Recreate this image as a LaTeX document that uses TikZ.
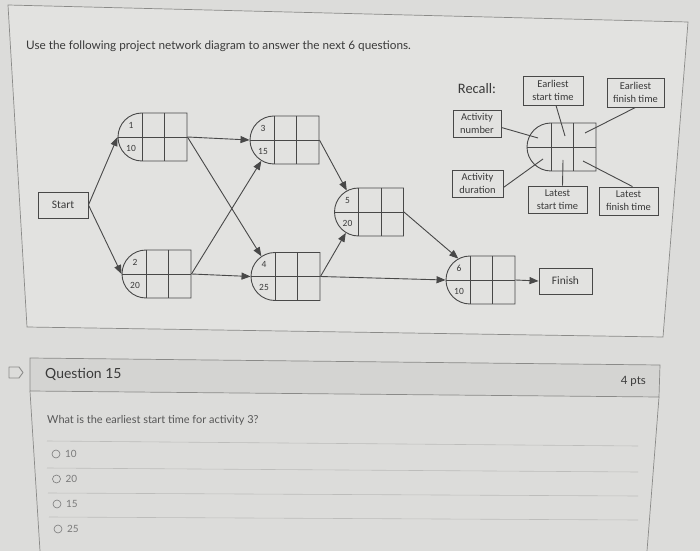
\documentclass[tikz,border=0pt]{standalone}
\usepackage{fontspec}
\setmainfont{Lato}
\newfontfamily\cfont{Carlito}
\usetikzlibrary{shapes.misc,arrows.meta,calc}
\definecolor{paper}{HTML}{DCDCDA}
\definecolor{panelbg}{HTML}{E2E2E0}
\definecolor{headbg}{HTML}{D4D4D2}
\definecolor{ink}{HTML}{3A3A3A}
\definecolor{lineg}{HTML}{484848}
\definecolor{frameg}{HTML}{8A8A88}
\definecolor{sepg}{HTML}{BDBDBB}
\definecolor{optg}{HTML}{7A7A7A}
\tikzset{
  act/.style={draw=lineg, line width=0.9pt, rounded rectangle, rounded rectangle right arc=none,
              minimum width=69bp, minimum height=48bp, inner sep=0pt},
  grid/.style={draw=lineg, line width=0.9pt},
  num/.style={text=ink, font=\cfont\fontsize{9.5}{10}\selectfont, inner sep=0pt},
  termbox/.style={draw=lineg, line width=0.9pt, text=ink, font=\cfont\fontsize{11.5}{13}\selectfont, inner sep=0pt},
  legbox/.style={draw=lineg, line width=0.9pt, text=ink, align=center, inner sep=0pt,
                 font=\cfont\fontsize{10.5}{13}\selectfont},
  conn/.style={draw=lineg, line width=0.9pt, -{Triangle[length=9bp,width=7bp]}},
  legline/.style={draw=lineg, line width=0.9pt},
  frame/.style={draw=frameg, line width=0.7pt},
  sepline/.style={draw=sepg, line width=0.6pt},
  optcirc/.style={circle, draw=optg, line width=0.6pt, minimum size=8bp, inner sep=0pt},
  opttext/.style={text=optg, font=\fontsize{10}{11}\selectfont, anchor=west, inner sep=0pt},
}
\newcommand\actnode[5]{%
  \node[act] (#1) at (#2,#3) {};
  \draw[grid] ({#2-34.5},#3) -- ({#2+34.5},#3);
  \draw[grid] ({#2-10.5},{#3-24}) -- ({#2-10.5},{#3+24});
  \draw[grid] ({#2+12},{#3-24}) -- ({#2+12},{#3+24});
  \node[num] (#1n) at ({#2-21.5},{#3-12}) {#4};
  \node[num] (#1d) at ({#2-21.5},{#3+11}) {#5};
}
\begin{document}
\begin{tikzpicture}[x=1bp,y=-1bp]
\useasboundingbox (0,0) rectangle (700,551);
\fill[paper] (0,0) rectangle (700,551);
% upper panel
\filldraw[frame, fill=panelbg] (8,5) -- (688,22) -- (663,337) -- (27,327) -- cycle;
\node[text=ink, font=\fontsize{11.8}{14}\selectfont, anchor=west, inner sep=0pt] (intro) at (26,46)
  {Use the following project network diagram to answer the next 6 questions.};

% network
\node[termbox, minimum width=50bp, minimum height=26bp] (start) at (63,205) {Start};
\actnode{n1}{152.5}{137}{1}{10}
\actnode{n2}{156.5}{274}{2}{20}
\actnode{n3}{284.5}{140}{3}{15}
\actnode{n4}{285.5}{276.5}{4}{25}
\actnode{n5}{369}{212}{5}{20}
\actnode{n6}{480.5}{280}{6}{10}
\node[termbox, minimum width=53bp, minimum height=26bp] (finish) at (565.5,281) {Finish};

\draw[conn] (start.east) -- (n1.west);
\draw[conn] (start.east) -- (n2.west);
\draw[conn] (n1.east) -- (n3.west);
\draw[conn] (n1.east) -- (n4.140);
\draw[conn] (n2.east) -- (n3.222);
\draw[conn] (n2.east) -- (n4.west);
\draw[conn] (n3.east) -- (n5.136);
\draw[conn] (n4.east) -- (n5.222);
\draw[conn] (n4.east) -- (n6.west);
\draw[conn] (n5.east) -- (n6.136);
\draw[conn] (n6.east) -- (finish.west);

% legend
\node[text=ink, font=\cfont\fontsize{14.5}{16}\selectfont, inner sep=0pt] (recall) at (477,89) {Recall:};
\node[act] (lg) at (561.5,147) {};
\draw[grid] (527,147) -- (596,147);
\draw[grid] (551,123) -- (551,171);
\draw[grid] (573.5,123) -- (573.5,171);
\node[legbox, minimum width=48bp, minimum height=27bp] (actnum) at (477,123.5) {Activity\\number};
\node[legbox, minimum width=60bp, minimum height=29bp] (eststart) at (553,90.5) {Earliest\\start time};
\node[legbox, minimum width=57bp, minimum height=29bp] (estfinish) at (635.5,92.5) {Earliest\\finish time};
\node[legbox, minimum width=51bp, minimum height=27bp] (actdur) at (477.5,183.5) {Activity\\duration};
\node[legbox, minimum width=59bp, minimum height=27bp] (lststart) at (557.5,199.5) {Latest\\start time};
\node[legbox, minimum width=59bp, minimum height=28bp] (lstfinish) at (628.5,201) {Latest\\finish time};
\coordinate (pnum) at (538,138);
\coordinate (pes) at (565,136);
\coordinate (pef) at (585,133);
\coordinate (pdur) at (543,159);
\coordinate (pls) at (563,160);
\coordinate (plf) at (583,161);
\draw[legline] ($(actnum.east)+(0,4)$) -- (pnum);
\draw[legline] ($(eststart.south)+(3,0)$) -- (pes);
\draw[legline] (estfinish.south) -- (pef);
\draw[legline] ($(actdur.east)+(0,4)$) -- (pdur);
\draw[legline] ($(lststart.north)+(5,0)$) -- (pls);
\draw[legline] ($(lstfinish.north)+(4,0)$) -- (plf);

% question block
\draw[frame, line width=0.9pt, line join=round] (9,367) -- (19,367) -- (23,372.5) -- (19,378) -- (9,378) -- cycle;
\filldraw[frame, fill=headbg] (30,358) -- (660,365) -- (659,397) -- (30,391) -- cycle;
\draw[frame] (30,391) -- (40,551);
\draw[frame] (659,397) -- (647,551);
\node[text=ink, font=\fontsize{14}{16}\selectfont, anchor=west, inner sep=0pt] (qtitle) at (45,374) {Question 15};
\node[text=ink, font=\fontsize{11.5}{13}\selectfont, anchor=east, inner sep=0pt] (pts) at (646,381) {4 pts};
\node[text=ink!85, font=\fontsize{11}{13}\selectfont, anchor=west, inner sep=0pt] (qtext) at (47,420) {What is the earliest start time for activity 3?};
\draw[sepline] (47,441) -- (638,446);
\draw[sepline] (47,468) -- (638,472);
\draw[sepline] (48,493) -- (638,496);
\draw[sepline] (49,517) -- (638,520);
\node[optcirc] (o1) at (56,454) {};
\node[opttext] (t1) at (65,454) {10};
\node[optcirc] (o2) at (56.5,479) {};
\node[opttext] (t2) at (65.5,479) {20};
\node[optcirc] (o3) at (57,504) {};
\node[opttext] (t3) at (66,504) {15};
\node[optcirc] (o4) at (58,529) {};
\node[opttext] (t4) at (67,529) {25};
\end{tikzpicture}
\end{document}
